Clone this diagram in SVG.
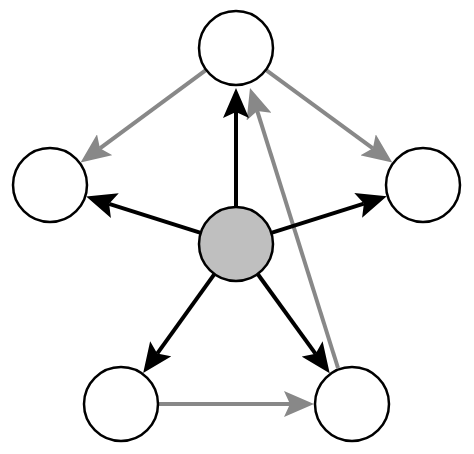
<svg xmlns="http://www.w3.org/2000/svg" width="474" height="454" viewBox="0 0 474 454">
  <style>
    .node { fill: #ffffff; stroke: #000000; stroke-width: 2.5; }
    .hub { fill: #bfbfbf; stroke: #000000; stroke-width: 2.5; }
    .blk { stroke: #000000; stroke-width: 4; fill: none; }
    .gry { stroke: #888888; stroke-width: 4; fill: none; }
  </style>
  <defs>
    <marker id="ab" markerUnits="userSpaceOnUse" markerWidth="30" markerHeight="26" viewBox="0 0 30 26" refX="6" refY="13" orient="auto">
      <path d="M0,0 L30,13 L0,26 L6,13 Z" fill="#000000"/>
    </marker>
    <marker id="ag" markerUnits="userSpaceOnUse" markerWidth="30" markerHeight="26" viewBox="0 0 30 26" refX="6" refY="13" orient="auto">
      <path d="M0,0 L30,13 L0,26 L6,13 Z" fill="#888888"/>
    </marker>
  </defs>
  <g id="connectors">
    <line class="gry" x1="206.2" y1="69.9" x2="99.9" y2="148.3" marker-end="url(#ag)"/>
    <line class="gry" x1="265.8" y1="69.9" x2="372.9" y2="148.3" marker-end="url(#ag)"/>
    <line class="gry" x1="158" y1="404" x2="290" y2="404" marker-end="url(#ag)"/>
    <line class="gry" x1="338" y1="368" x2="257.2" y2="110.9" marker-end="url(#ag)"/>
    <line class="blk" x1="236" y1="207" x2="236" y2="112" marker-end="url(#ab)"/>
    <line class="blk" x1="200.7" y1="232.8" x2="109.1" y2="203.8" marker-end="url(#ab)"/>
    <line class="blk" x1="271.3" y1="232.9" x2="363.9" y2="203.6" marker-end="url(#ab)"/>
    <line class="blk" x1="214.4" y1="274.1" x2="157.2" y2="353.6" marker-end="url(#ab)"/>
    <line class="blk" x1="257.7" y1="274" x2="315.6" y2="353.8" marker-end="url(#ab)"/>
  </g>
  <g id="node-center"><circle class="hub" cx="236" cy="244" r="37"/></g>
  <g id="node-top"><circle class="node" cx="236" cy="48" r="37"/></g>
  <g id="node-left"><circle class="node" cx="50" cy="185" r="37"/></g>
  <g id="node-right"><circle class="node" cx="423" cy="185" r="37"/></g>
  <g id="node-bottom-left"><circle class="node" cx="121" cy="404" r="37"/></g>
  <g id="node-bottom-right"><circle class="node" cx="352" cy="404" r="37"/></g>
</svg>
